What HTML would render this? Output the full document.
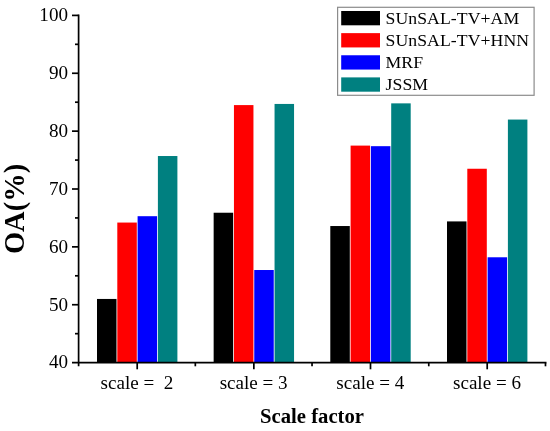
<!DOCTYPE html>
<html><head><meta charset="utf-8"><title>Scale factor chart</title>
<style>html,body{margin:0;padding:0;background:#fff}svg{display:block}</style></head>
<body>
<svg xmlns="http://www.w3.org/2000/svg" width="550" height="431" viewBox="0 0 550 431">
<rect width="550" height="431" fill="#ffffff"/>
<rect x="97.00" y="298.95" width="19.5" height="63.65" fill="#000000"/>
<rect x="117.30" y="222.56" width="19.5" height="140.04" fill="#ff0000"/>
<rect x="137.60" y="216.20" width="19.5" height="146.40" fill="#0000ff"/>
<rect x="157.90" y="156.02" width="19.5" height="206.58" fill="#008080"/>
<rect x="213.65" y="212.73" width="19.5" height="149.87" fill="#000000"/>
<rect x="233.95" y="105.09" width="19.5" height="257.51" fill="#ff0000"/>
<rect x="254.25" y="270.01" width="19.5" height="92.59" fill="#0000ff"/>
<rect x="274.55" y="103.94" width="19.5" height="258.66" fill="#008080"/>
<rect x="330.30" y="226.03" width="19.5" height="136.57" fill="#000000"/>
<rect x="350.60" y="145.60" width="19.5" height="217.00" fill="#ff0000"/>
<rect x="370.90" y="146.18" width="19.5" height="216.42" fill="#0000ff"/>
<rect x="391.20" y="103.36" width="19.5" height="259.24" fill="#008080"/>
<rect x="447.00" y="221.41" width="19.5" height="141.19" fill="#000000"/>
<rect x="467.30" y="168.75" width="19.5" height="193.85" fill="#ff0000"/>
<rect x="487.60" y="257.28" width="19.5" height="105.32" fill="#0000ff"/>
<rect x="507.90" y="119.56" width="19.5" height="243.04" fill="#008080"/>
<g stroke="#000" stroke-width="1.7" fill="none">
<path d="M78.6 14.55 V366.3"/>
<path d="M72 362.6 H546.45"/>
<path d="M72 15.40 H78.6"/>
<path d="M75 44.33 H78.6"/>
<path d="M72 73.27 H78.6"/>
<path d="M75 102.20 H78.6"/>
<path d="M72 131.13 H78.6"/>
<path d="M75 160.07 H78.6"/>
<path d="M72 189.00 H78.6"/>
<path d="M75 217.93 H78.6"/>
<path d="M72 246.87 H78.6"/>
<path d="M75 275.80 H78.6"/>
<path d="M72 304.73 H78.6"/>
<path d="M75 333.67 H78.6"/>
<path d="M137.2 362.6 V369.3"/>
<path d="M253.85 362.6 V369.3"/>
<path d="M370.5 362.6 V369.3"/>
<path d="M487.2 362.6 V369.3"/>
<path d="M195.32 362.6 V366.3"/>
<path d="M312.04 362.6 V366.3"/>
<path d="M428.76 362.6 V366.3"/>
<path d="M545.48 362.6 V366.3"/>
</g>
<g font-family="'Liberation Serif', serif" font-size="19.1" fill="#000">
<text x="68" y="21.20" text-anchor="end">100</text>
<text x="68" y="79.07" text-anchor="end">90</text>
<text x="68" y="136.93" text-anchor="end">80</text>
<text x="68" y="194.80" text-anchor="end">70</text>
<text x="68" y="252.67" text-anchor="end">60</text>
<text x="68" y="310.53" text-anchor="end">50</text>
<text x="68" y="368.40" text-anchor="end">40</text>
<text x="137.0" y="389" text-anchor="middle" xml:space="preserve">scale =  2</text>
<text x="253.65" y="389" text-anchor="middle" xml:space="preserve">scale = 3</text>
<text x="370.3" y="389" text-anchor="middle" xml:space="preserve">scale = 4</text>
<text x="487.0" y="389" text-anchor="middle" xml:space="preserve">scale = 6</text>
</g>
<text x="312" y="423" text-anchor="middle" font-family="'Liberation Serif', serif" font-weight="bold" font-size="20.7">Scale factor</text>
<text transform="translate(24 209) rotate(-90)" text-anchor="middle" font-family="'Liberation Serif', serif" font-weight="bold" font-size="28.5">OA(%)</text>
<rect x="337.6" y="7.3" width="196.5" height="88" fill="#fff" stroke="#8c8c8c" stroke-width="1.2"/>
<rect x="341.2" y="11.00" width="38.8" height="14.3" fill="#000000"/>
<text x="385.5" y="23.90" font-family="'Liberation Serif', serif" font-size="17.7" letter-spacing="0.08">SUnSAL-TV+AM</text>
<rect x="341.2" y="33.13" width="38.8" height="14.3" fill="#ff0000"/>
<text x="385.5" y="46.05" font-family="'Liberation Serif', serif" font-size="17.7" letter-spacing="0.08">SUnSAL-TV+HNN</text>
<rect x="341.2" y="55.26" width="38.8" height="14.3" fill="#0000ff"/>
<text x="385.5" y="68.20" font-family="'Liberation Serif', serif" font-size="17.7" letter-spacing="0.08">MRF</text>
<rect x="341.2" y="77.39" width="38.8" height="14.3" fill="#008080"/>
<text x="385.5" y="90.35" font-family="'Liberation Serif', serif" font-size="17.7" letter-spacing="0.08">JSSM</text>
</svg>
</body></html>
